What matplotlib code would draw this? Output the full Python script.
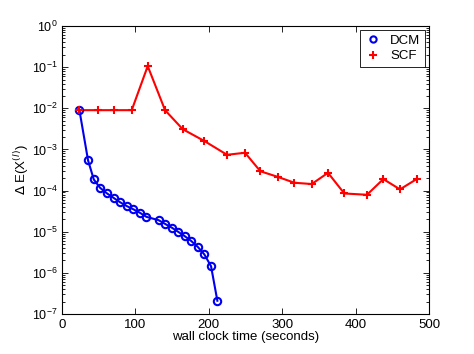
import numpy as np
import matplotlib
matplotlib.use('Agg')
import matplotlib.pyplot as plt
from matplotlib.ticker import LogLocator, NullFormatter

plt.rcParams['font.family'] = ['Liberation Sans', 'DejaVu Sans']

# DCM convergence
dcm_t = [23.6, 35.4, 43.2, 51.7, 61.3, 70.4, 79.0, 88.1, 97.2, 105.8, 114.9,
         131.7, 140.3, 149.4, 158.0, 167.1, 175.7, 184.8, 193.9, 203.0, 211.6]
dcm_e = [9e-3, 5.4e-4, 1.86e-4, 1.17e-4, 8.5e-5, 6.6e-5, 5.2e-5, 4.2e-5, 3.5e-5,
         2.9e-5, 2.3e-5, 1.9e-5, 1.55e-5, 1.26e-5, 1.0e-5, 7.8e-6, 6.0e-6,
         4.3e-6, 2.8e-6, 1.45e-6, 2.1e-7]

# SCF convergence
scf_t = [23.6, 48.6, 71.3, 94.9, 116.7, 140.3, 164.4, 193.9, 224.8, 249.3,
         270.2, 294.0, 316.5, 340.2, 362.4, 384.6, 415.5, 437.8, 460.5, 483.2]
scf_e = [9e-3, 9e-3, 9e-3, 9e-3, 0.106, 9e-3, 3.1e-3, 1.6e-3, 7.4e-4, 8.3e-4,
         2.95e-4, 2.15e-4, 1.55e-4, 1.44e-4, 2.7e-4, 8.5e-5, 7.9e-5, 1.9e-4,
         1.07e-4, 1.9e-4]

x_ticks = [0, 100, 200, 300, 400, 500]
y_ticks = [1e-7, 1e-6, 1e-5, 1e-4, 1e-3, 1e-2, 1e-1, 1]

fig = plt.figure(figsize=(4.74, 3.54), dpi=100)
ax = fig.add_axes([0.131, 0.113, 0.774, 0.8136])

ax.semilogy(scf_t, scf_e, '-', color='red', lw=1.5, zorder=2)
ax.semilogy(dcm_t, dcm_e, '-', color='#0000ee', lw=1.5, zorder=3)
ax.semilogy(dcm_t, dcm_e, 'o', mfc='none', mec='#0000ee', mew=1.5, ms=5.3,
            zorder=4, label='DCM')
ax.semilogy(scf_t, scf_e, '+', color='red', mew=1.5, ms=6, zorder=5, label='SCF')

ax.set_xlim(0, 500)
ax.set_ylim(1e-7, 1)
ax.set_xticks(x_ticks)
ax.set_yticks(y_ticks)
ax.yaxis.set_minor_locator(LogLocator(base=10, subs=np.arange(2, 10), numticks=20))
ax.yaxis.set_minor_formatter(NullFormatter())
ax.tick_params(which='both', direction='in', top=True, right=True,
               labelsize=9.5, width=0.6)
ax.tick_params(axis='y', labelsize=9, pad=3)
ax.tick_params(which='major', length=4)
ax.tick_params(which='minor', length=2)
for s in ax.spines.values():
    s.set_linewidth(0.8)

ax.set_xlabel('wall clock time (seconds)', fontsize=9.5, labelpad=0)
ax.set_ylabel(r'$\Delta$ E(X$^{(l)}$)', fontsize=9.5)
ax.yaxis.set_label_coords(-0.085, 0.5)

leg = ax.legend(loc='upper right', fontsize=9.5, fancybox=False, edgecolor='black',
                framealpha=1, handlelength=1.2, borderaxespad=0.3,
                borderpad=0.35, labelspacing=0.25, handletextpad=0.7,
                markerscale=0.85)
leg.get_frame().set_linewidth(0.6)

fig.savefig('out.png', dpi=100)
